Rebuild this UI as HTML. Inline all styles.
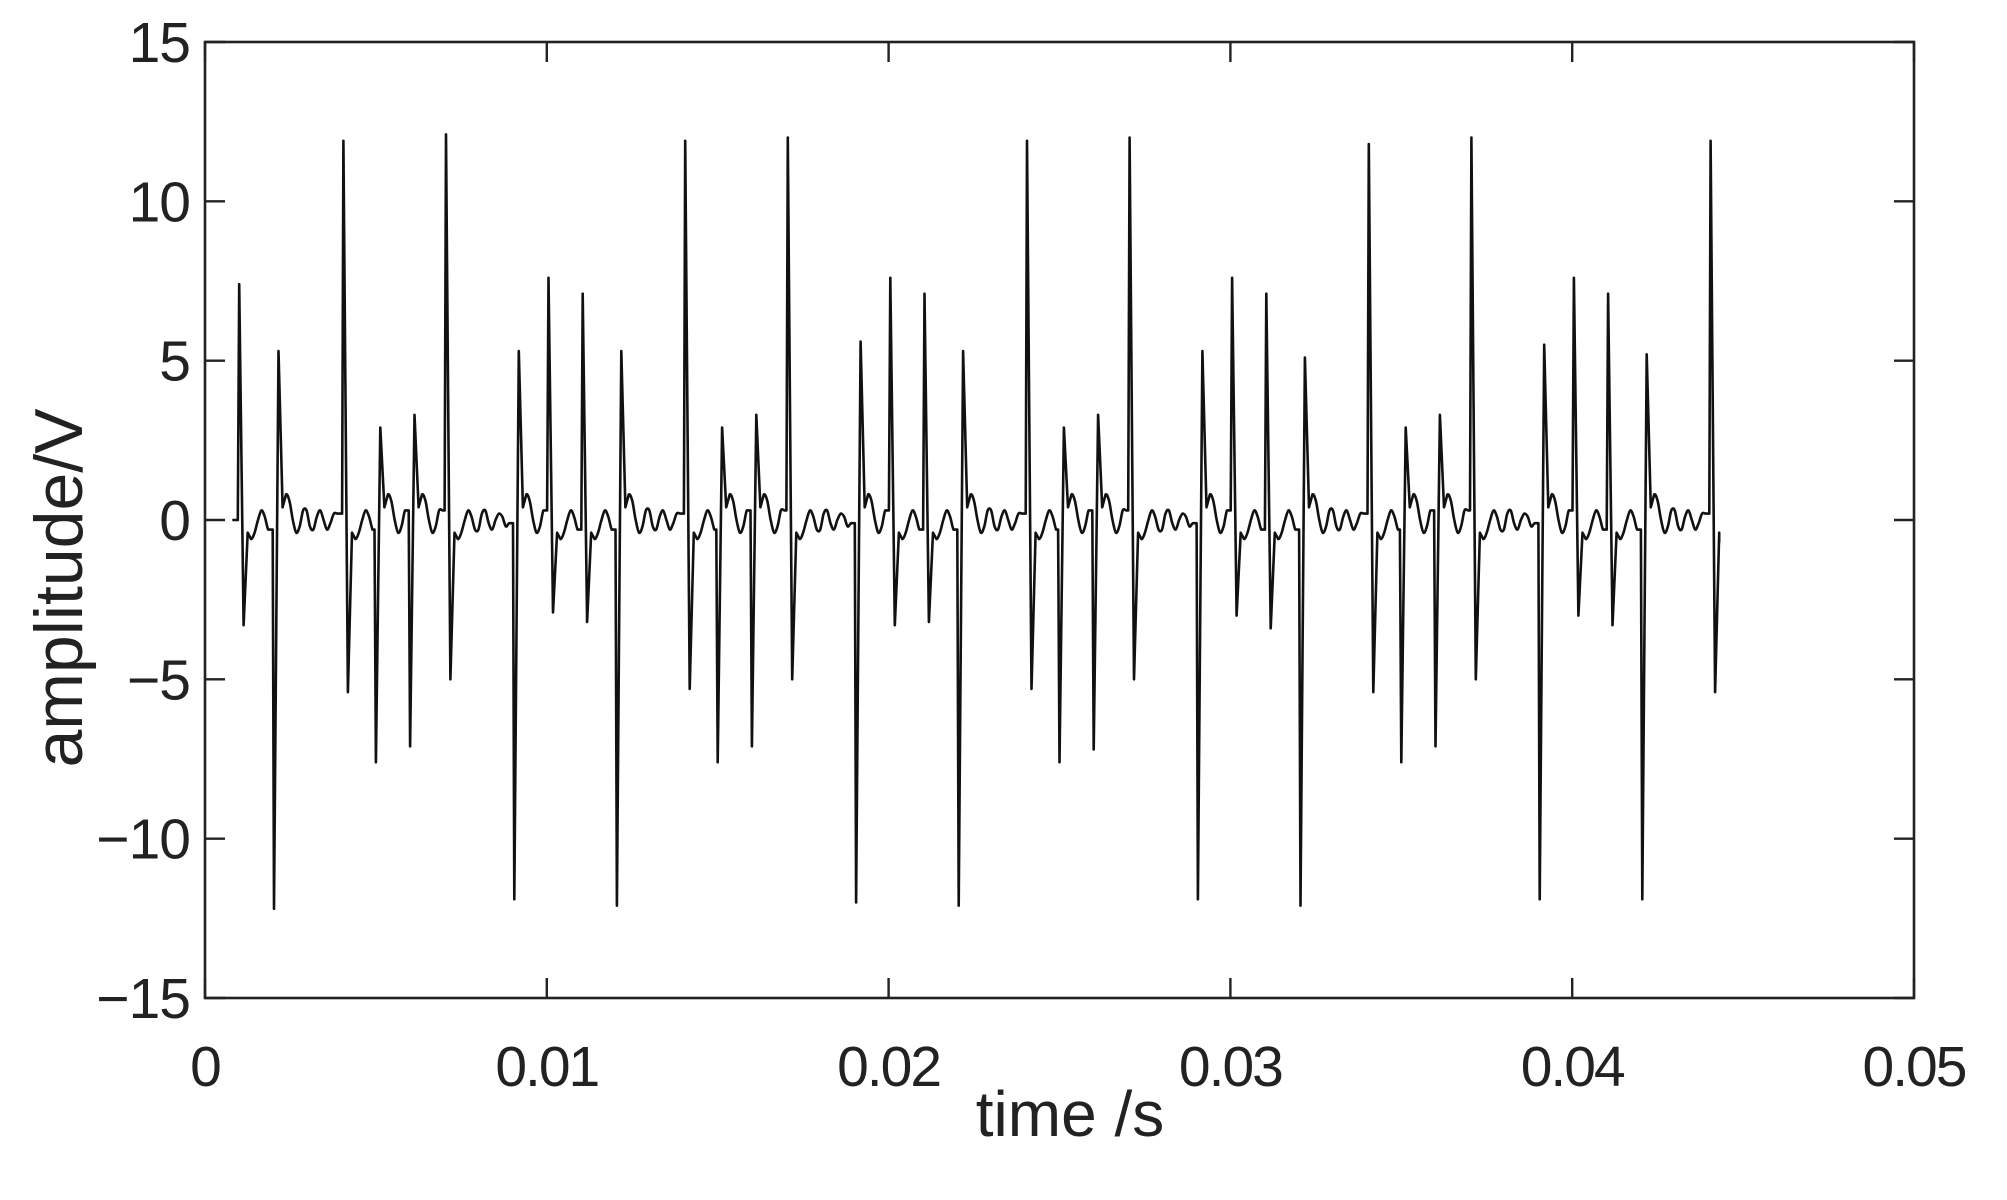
<!DOCTYPE html>
<html><head><meta charset="utf-8"><style>
html,body{margin:0;padding:0;background:#fff;}
svg{display:block;font-family:"Liberation Sans",Arial,sans-serif;}
</style></head><body>
<svg id="chart" width="2007" height="1200" viewBox="0 0 2007 1200">
<rect x="0" y="0" width="2007" height="1200" fill="#fff"/>
<g id="ticks"></g>
<path id="signal" fill="none" stroke="#111" stroke-width="2.6" stroke-linejoin="round"/>
<rect x="205" y="42" width="1709" height="956" fill="none" stroke="#222" stroke-width="2.6"/>
<text x="1070" y="1136" font-size="64" text-anchor="middle" fill="#222">time /s</text>
<text transform="translate(82,588) rotate(-90)" font-size="68" text-anchor="middle" fill="#222">amplitude/V</text>
</svg>
<script>
const xTicks=[0,0.01,0.02,0.03,0.04,0.05];
const xTickLabels=["0","0.01","0.02","0.03","0.04","0.05"];
const yTicks=[-15,-10,-5,0,5,10,15];
const yTickLabels=["\u221215","\u221210","\u22125","0","5","10","15"];
const spikeTimes=[0.00100,0.00202,0.00405,0.00500,0.00600,0.00705,0.00905,0.01005,0.01105,0.01205,0.01405,0.01500,0.01600,0.01705,0.01905,0.02005,0.02105,0.02205,0.02405,0.02500,0.02600,0.02705,0.02905,0.03005,0.03105,0.03205,0.03405,0.03500,0.03600,0.03705,0.03905,0.04005,0.04105,0.04205,0.04405];
const spikeFirst=[7.4,-12.2,11.9,-7.6,-7.1,12.1,-11.9,7.6,7.1,-12.1,11.9,-7.6,-7.1,12.0,-12.0,7.6,7.1,-12.1,11.9,-7.6,-7.2,12.0,-11.9,7.6,7.1,-12.1,11.8,-7.6,-7.1,12.0,-11.9,7.6,7.1,-11.9,11.9];
const spikeSecond=[-3.3,5.3,-5.4,2.9,3.3,-5.0,5.3,-2.9,-3.2,5.3,-5.3,2.9,3.3,-5.0,5.6,-3.3,-3.2,5.3,-5.3,2.9,3.3,-5.0,5.3,-3.0,-3.4,5.1,-5.4,2.9,3.3,-5.0,5.5,-3.0,-3.3,5.2,-5.4];
const rippleAfterPos=[-0.4,-0.6,-0.4,0.0,0.3,0.1,-0.3,-0.3,0.2,0.3,-0.1,-0.3,0.0,0.2,0.1,-0.2,-0.1,0.1,0.0,-0.1];
const rippleAfterNeg=[0.4,0.8,0.6,0.0,-0.4,-0.2,0.3,0.3,-0.2,-0.3,0.1,0.3,0.0,-0.3,-0.1,0.2,0.2,-0.1,-0.1,0.0];
const endTime=0.0443, endValue=-0.7;

const L=205,R=1914,T=42,B=998;
const sx=t=>L+(t-0)/(0.05-0)*(R-L);
const sy=v=>B-(v+15)/30*(B-T);
const NS="http://www.w3.org/2000/svg";
const tg=document.getElementById('ticks');
function mk(tag,attrs){const e=document.createElementNS(NS,tag);for(const k in attrs)e.setAttribute(k,attrs[k]);return e;}
xTicks.forEach((t,i)=>{
  const x=sx(t);
  const a=mk('line',{x1:x,x2:x,y1:B,y2:B-20,stroke:'#222','stroke-width':2.4});
  
  
  tg.appendChild(a);
  const b=mk('line',{x1:x,x2:x,y1:T,y2:T+20,stroke:'#222','stroke-width':2.4});
  
  
  tg.appendChild(b);
  const tx=mk('text',{x:x,y:1086,'font-size':57,'text-anchor':'middle','letter-spacing':-2,fill:'#222'});
  tx.textContent=xTickLabels[i];
  
  
  tg.appendChild(tx);
});
yTicks.forEach((v,i)=>{
  const y=sy(v);
  const a=mk('line',{x1:L,x2:L+20,y1:y,y2:y,stroke:'#222','stroke-width':2.4});
  
  
  tg.appendChild(a);
  const b=mk('line',{x1:R,x2:R-20,y1:y,y2:y,stroke:'#222','stroke-width':2.4});
  
  
  tg.appendChild(b);
  const tx=mk('text',{x:190,y:y+20,'font-size':57,'text-anchor':'end','letter-spacing':-1,fill:'#222'});
  tx.textContent=yTickLabels[i];
  
  
  tg.appendChild(tx);
});
// build signal
const pts=[];
pts.push([0.0008,0]);
const dt=0.0001;
for(let i=0;i<spikeTimes.length;i++){
  const t=spikeTimes[i];
  const prev=pts[pts.length-1];
  pts.push([t-0.00004,prev[1]]);
  pts.push([t,spikeFirst[i]]);
  pts.push([t+0.00013,spikeSecond[i]]);
  const next=i+1<spikeTimes.length?spikeTimes[i+1]:endTime+dt;
  const rip=spikeFirst[i]>0?rippleAfterPos:rippleAfterNeg;
  for(let k=0;k<rip.length;k++){
    const tk=t+0.00025+k*dt;
    if(tk>next-0.00008) break;
    if(i+1>=spikeTimes.length && tk>endTime) break;
    pts.push([tk,rip[k]]);
  }
}
pts.push([endTime,endValue]);
let d='M'+sx(pts[0][0]).toFixed(1)+','+sy(pts[0][1]).toFixed(1);
for(let i=1;i<pts.length;i++){
  const p0=pts[Math.max(0,i-2)],p1=pts[i-1],p2=pts[i],p3=pts[Math.min(pts.length-1,i+1)];
  const big=Math.abs(p1[1])>1.5||Math.abs(p2[1])>1.5||Math.abs(p0[1])>1.5||Math.abs(p3[1])>1.5;
  const X=q=>sx(q[0]),Y=q=>sy(q[1]);
  if(big){d+=' L'+X(p2).toFixed(1)+','+Y(p2).toFixed(1);}
  else{
    const c1x=X(p1)+(X(p2)-X(p0))/6,c1y=Y(p1)+(Y(p2)-Y(p0))/6;
    const c2x=X(p2)-(X(p3)-X(p1))/6,c2y=Y(p2)-(Y(p3)-Y(p1))/6;
    d+=' C'+c1x.toFixed(1)+','+c1y.toFixed(1)+' '+c2x.toFixed(1)+','+c2y.toFixed(1)+' '+X(p2).toFixed(1)+','+Y(p2).toFixed(1);
  }
}
document.getElementById('signal').setAttribute('d',d);
</script>
</body></html>
